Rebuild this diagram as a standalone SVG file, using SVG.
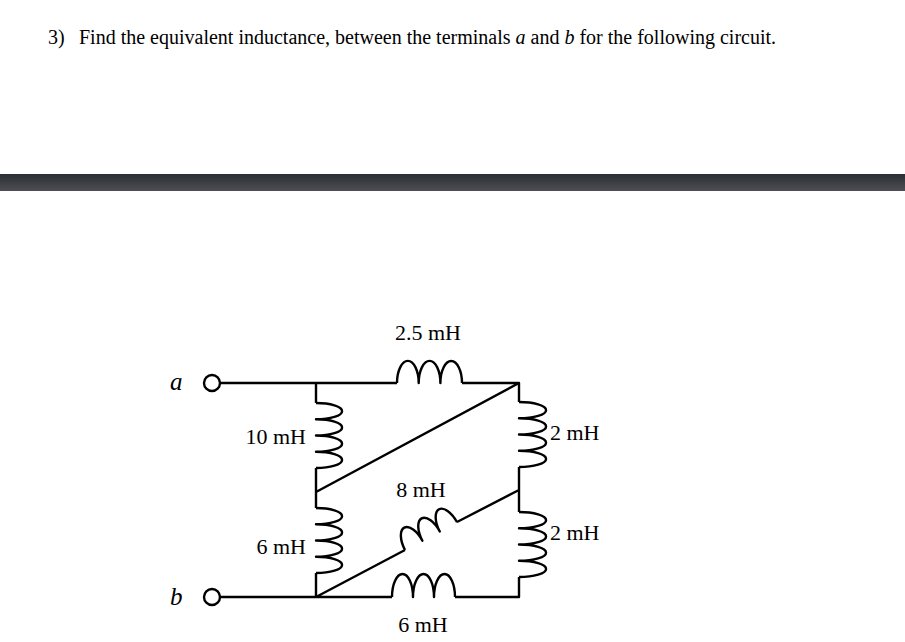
<svg xmlns="http://www.w3.org/2000/svg" width="905" height="642" viewBox="0 0 905 642">
<defs>
<linearGradient id="bar" x1="0" y1="0" x2="0" y2="1"><stop offset="0" stop-color="#2b2e33"/><stop offset="1" stop-color="#4d4f55"/></linearGradient>
</defs>
<style>
.t{font-family:"Liberation Serif",serif;fill:#000}
.l{font-size:22px}
.w{fill:none;stroke:#000;stroke-width:2.4;stroke-linejoin:round}
</style>
<rect width="905" height="642" fill="#fff"/>
<text class="t" x="48" y="44" font-size="20">3)</text>
<text class="t" x="79" y="44" font-size="20">Find the equivalent inductance, between the terminals <tspan font-style="italic">a</tspan> and <tspan font-style="italic">b</tspan> for the following circuit.</text>
<rect x="0" y="174" width="905" height="17" fill="url(#bar)"/>
<g id="connectors" class="w">
<path d="M220,383 H397 M462,383 H519 V402 M519,467 V512 M519,577 V597 H455 M392,597 H220 M316,383 V403 M316,468 V508 M316,573 V597 M316,492 L519,383 M316,597 L405,550 M457,522 L519,490"/>
</g>
<g id="terminal-a"><circle cx="212" cy="383" r="8" class="w" fill="#fff"/><text class="t" x="170" y="390" font-size="25" font-style="italic">a</text></g>
<g id="terminal-b"><circle cx="212" cy="597" r="8" class="w" fill="#fff"/><text class="t" x="170" y="605" font-size="25" font-style="italic">b</text></g>
<g id="L2_5"><path class="w" d="M397,383 a10.8,22 0 0 1 21.7,0 a10.8,22 0 0 1 21.7,0 a10.8,22 0 0 1 21.6,0"/><text class="t l" x="428" y="340" text-anchor="middle">2.5 mH</text></g>
<g id="L10"><path class="w" d="M316,403 a26,8.1 0 0 1 0,16.25 a26,8.1 0 0 1 0,16.25 a26,8.1 0 0 1 0,16.25 a26,8.1 0 0 1 0,16.25"/><text class="t l" x="306" y="444" text-anchor="end">10 mH</text></g>
<g id="L6a"><path class="w" d="M316,508 a26,8.1 0 0 1 0,16.25 a26,8.1 0 0 1 0,16.25 a26,8.1 0 0 1 0,16.25 a26,8.1 0 0 1 0,16.25"/><text class="t l" x="306" y="554" text-anchor="end">6 mH</text></g>
<g id="L2a"><path class="w" d="M519,402 a27,8.1 0 0 1 0,16.25 a27,8.1 0 0 1 0,16.25 a27,8.1 0 0 1 0,16.25 a27,8.1 0 0 1 0,16.25"/><text class="t l" x="550" y="440">2 mH</text></g>
<g id="L2b"><path class="w" d="M519,512 a27,8.1 0 0 1 0,16.25 a27,8.1 0 0 1 0,16.25 a27,8.1 0 0 1 0,16.25 a27,8.1 0 0 1 0,16.25"/><text class="t l" x="550" y="540">2 mH</text></g>
<g id="L8"><path class="w" transform="translate(405,550) rotate(-28)" d="M0,0 a9.8,20 0 0 1 19.7,0 a9.8,20 0 0 1 19.7,0 a9.8,20 0 0 1 19.6,0"/><text class="t l" x="421" y="497" text-anchor="middle">8 mH</text></g>
<g id="L6b"><path class="w" d="M392,597 a10.5,23 0 0 1 21,0 a10.5,23 0 0 1 21,0 a10.5,23 0 0 1 21,0"/><text class="t l" x="423" y="632" text-anchor="middle">6 mH</text></g>
</svg>
